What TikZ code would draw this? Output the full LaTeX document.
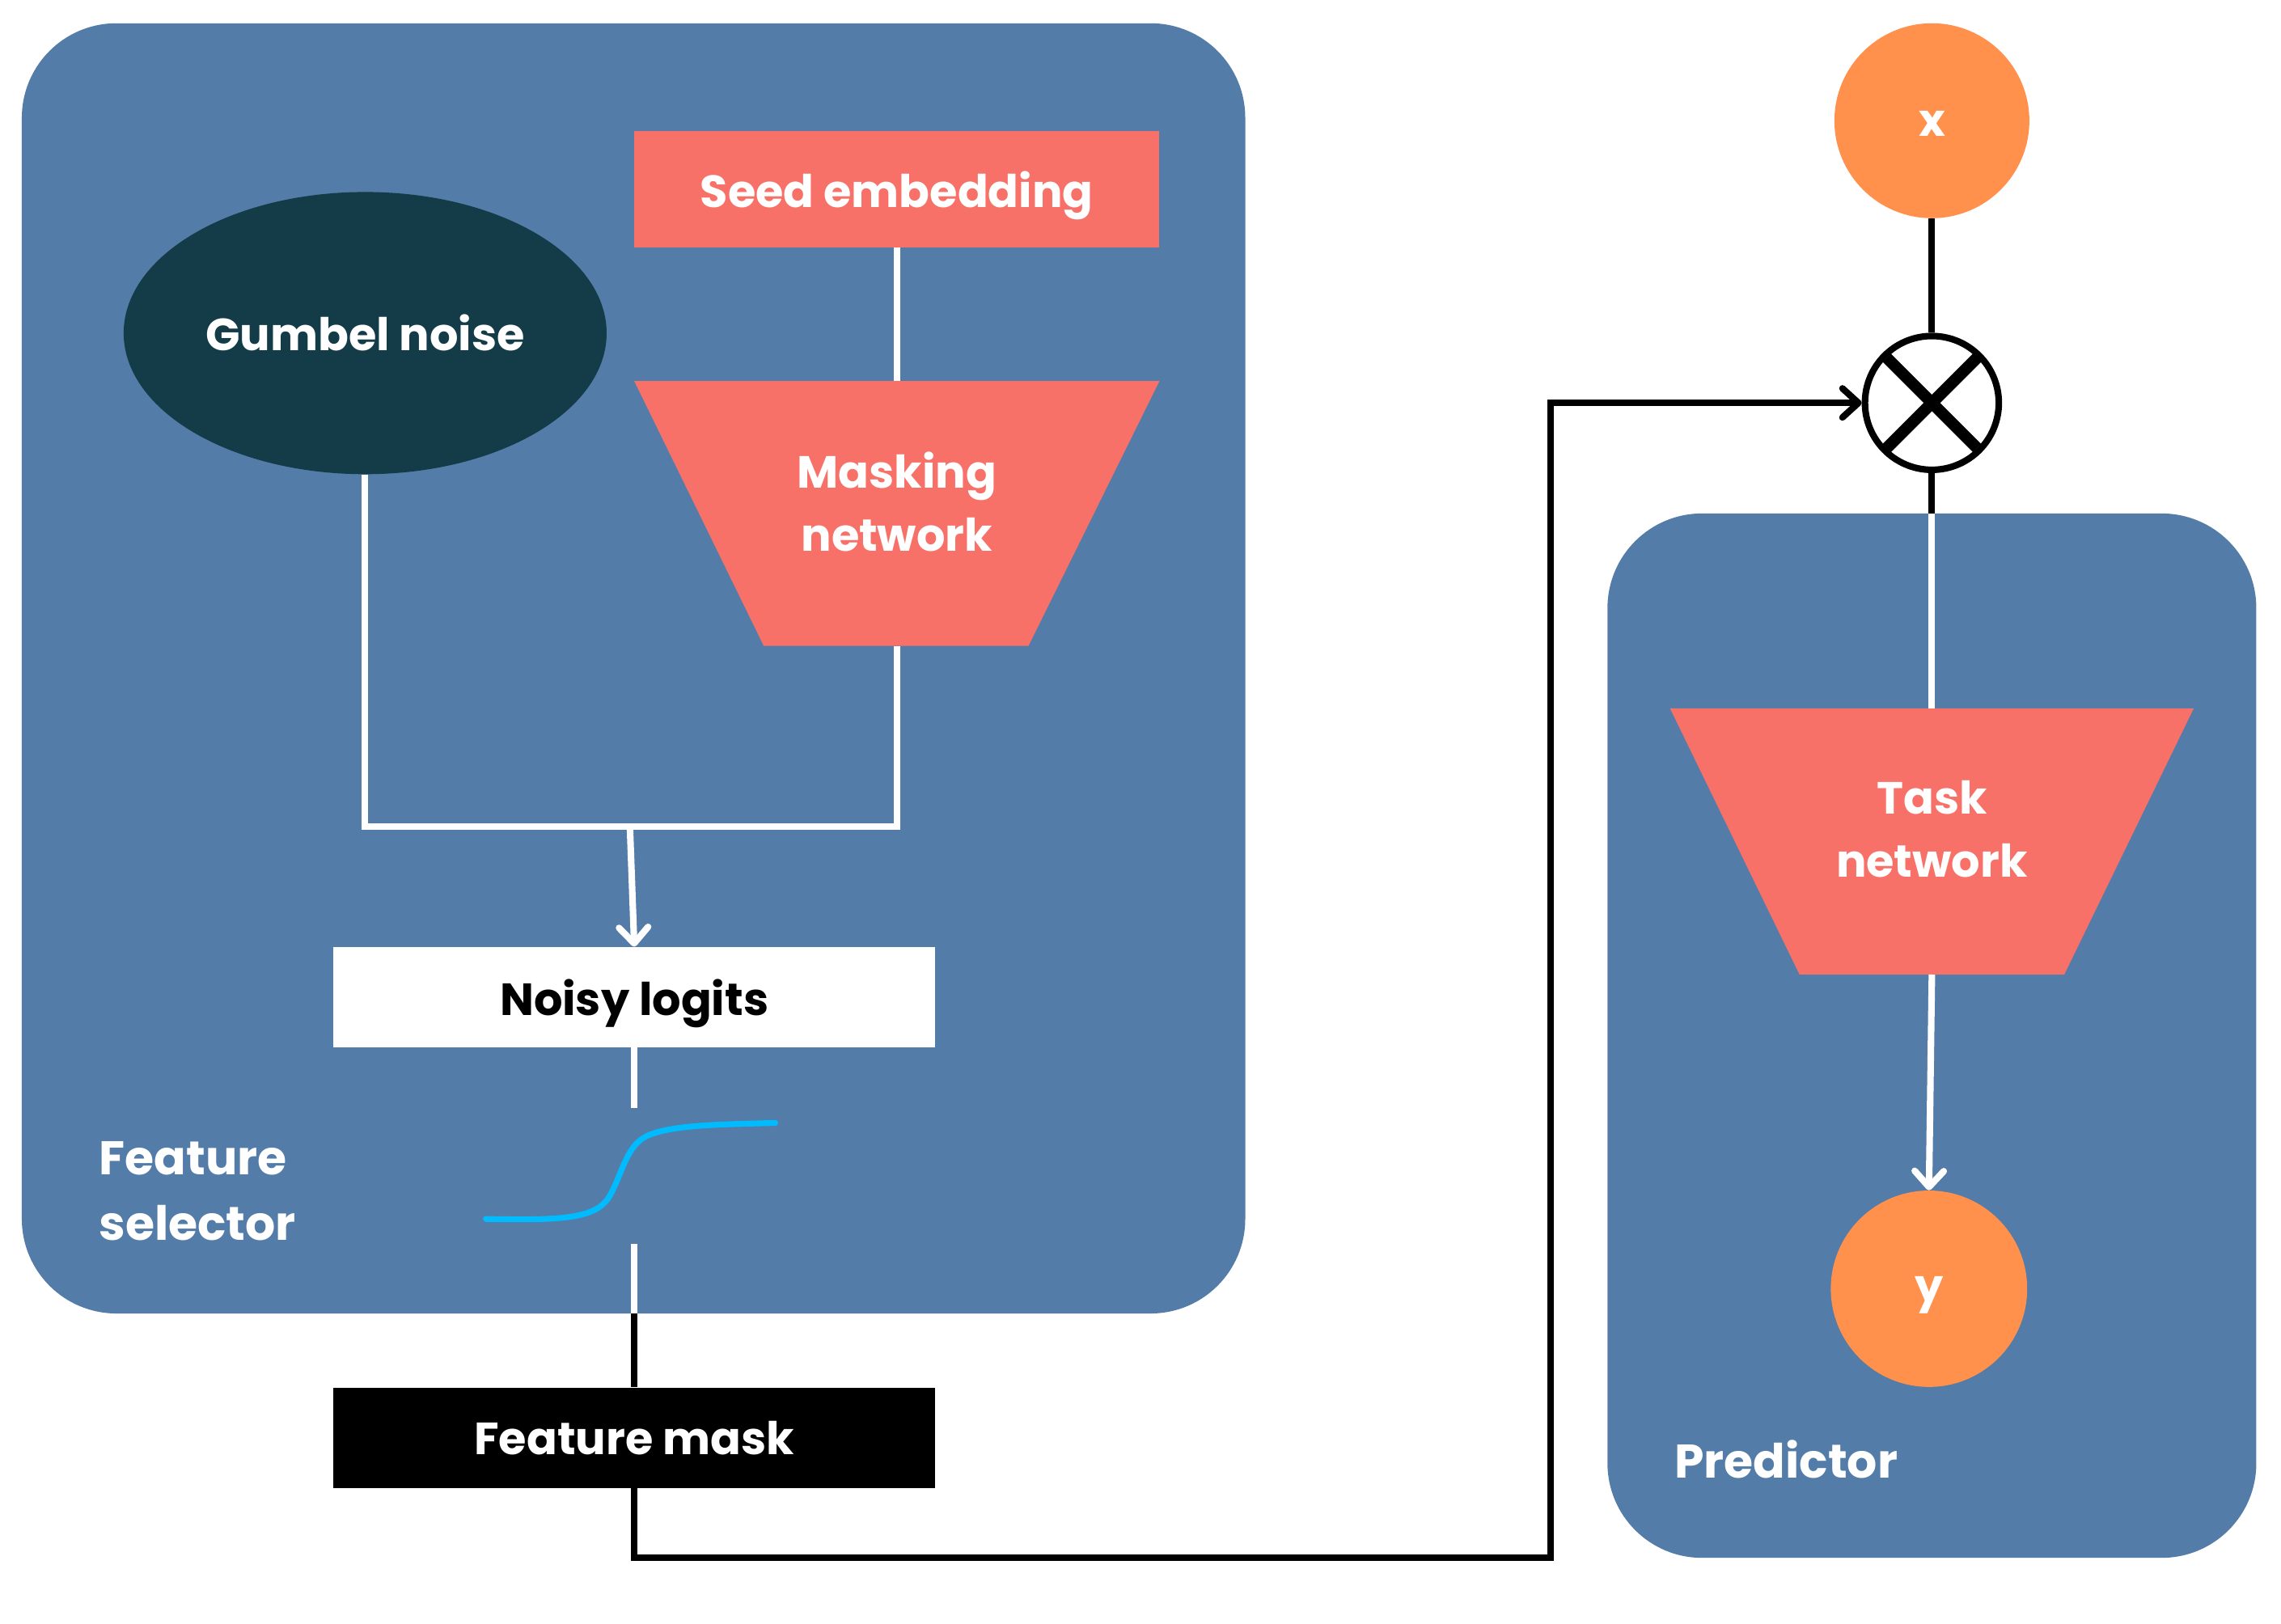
\documentclass[tikz,border=0pt]{standalone}
\usepackage{fontspec}
\setmainfont{Poppins}
\usetikzlibrary{shapes.geometric,arrows.meta,calc}
\definecolor{panelblue}{RGB}{83,124,168}
\definecolor{salmon}{RGB}{248,113,104}
\definecolor{darkteal}{RGB}{19,59,72}
\definecolor{orangeball}{RGB}{255,145,77}
\definecolor{sigblue}{RGB}{0,188,255}
\tikzset{
  panel/.style={fill=panelblue, rounded corners=65pt, inner sep=0pt},
  txt/.style={text=white, font=\fontsize{31}{43}\selectfont\bfseries, align=center, inner sep=0pt},
  lbl/.style={text=white, font=\fontsize{32.5}{45}\selectfont\bfseries, align=left, inner sep=0pt, anchor=west},
  boxnode/.style={rectangle, inner sep=0pt, text depth=0pt, font=\fontsize{31}{43}\selectfont\bfseries},
  ball/.style={circle, fill=orangeball, inner sep=0pt, text=white, text height=13pt, text depth=0pt, font=\fontsize{31}{43}\selectfont\bfseries},
  wline/.style={draw=white, line width=4.5pt},
  bline/.style={draw=black, line width=4.5pt},
  tip/.style={-{Straight Barb[length=11pt,width=20pt,round]}},
}
\begin{document}
\begin{tikzpicture}[x=1pt,y=-1pt]
\useasboundingbox[fill=white] (0,0) rectangle (1568,1116.5);
% panels
\node[panel, minimum width=841pt, minimum height=887pt] (selector) at (435.5,459.5) {};
\node[panel, minimum width=446pt, minimum height=718pt] (predictor) at (1328,712) {};
% feature selector contents
\node[boxnode, fill=salmon, minimum width=361pt, minimum height=80pt, text=white] (seed) at (616.5,130) {Seed embedding};
\node[ellipse, fill=darkteal, minimum width=332pt, minimum height=194pt, inner sep=0pt, txt] (gumbel) at (251,229) {Gumbel noise};
\fill[salmon] (436,262) -- (797,262) -- (707,444) -- (525,444) -- cycle;
\coordinate (maskT) at (616.5,262);
\coordinate (maskB) at (616.5,444);
\node[txt] (mask) at (616.5,345) {Masking\\network};
\coordinate (j) at (433,568);
\node[boxnode, fill=white, minimum width=414pt, minimum height=69pt, text=black] (noisy) at (436,685.5) {Noisy logits};
\node[inner sep=0pt, minimum width=200pt, minimum height=93pt] (sig) at (436,808.5) {};
\draw[sigblue, line width=4pt, line cap=round]
  (334,838) .. controls (385,839) and (408,838) .. (418,824)
  .. controls (428,808) and (430,786) .. (447,780)
  .. controls (465,773) and (500,773) .. (533,772);
\node[lbl] (fslabel) at (68,819) {Feature\\selector};
\node[boxnode, fill=black, minimum width=414pt, minimum height=69pt, text=white] (fmask) at (436,988.5) {Feature mask};
% connectors in selector
\draw[wline] (seed.south) -- (maskT);
\draw[wline] (gumbel.south) -- (gumbel.south |- j) -- (maskB |- j) -- (maskB);
\draw[wline, tip] (j) -- (noisy.north);
\draw[wline] (noisy.south) -- (sig.north);
\draw[wline] (sig.south) -- (sig.south |- selector.south);
\draw[bline] (sig.south |- selector.south) -- (fmask.north);
% multiplier and x
\node[ball, minimum size=134pt] (xin) at (1328,83) {\raisebox{-4pt}{x}};
\node[circle, draw=black, fill=white, line width=4.5pt, minimum size=92pt, inner sep=0pt] (otimes) at (1328,277) {};
\draw[line width=8pt] ($(otimes.center)+(-31,-31)$) -- ($(otimes.center)+(31,31)$);
\draw[line width=8pt] ($(otimes.center)+(31,-31)$) -- ($(otimes.center)+(-31,31)$);
\coordinate (c1) at (1066,1071);
\draw[bline, tip] (fmask.south) |- (c1) |- (otimes.west);
\draw[bline] (xin.south) -- (otimes.north);
% predictor contents
\fill[salmon] (1148,487) -- (1508,487) -- (1419,670) -- (1237,670) -- cycle;
\coordinate (taskT) at (1328,487);
\coordinate (taskB) at (1328,670);
\node[txt] (task) at (1328,570) {Task\\network};
\node[ball, minimum size=135pt] (yout) at (1326,886) {\raisebox{-2.5pt}{y}};
\draw[bline] (otimes.south) -- (otimes.south |- predictor.north);
\draw[wline] (otimes.south |- predictor.north) -- (taskT);
\draw[wline, tip] (taskB) -- (yout.north);
\node[lbl] (plabel) at (1151,1003) {Predictor};
\end{tikzpicture}
\end{document}
